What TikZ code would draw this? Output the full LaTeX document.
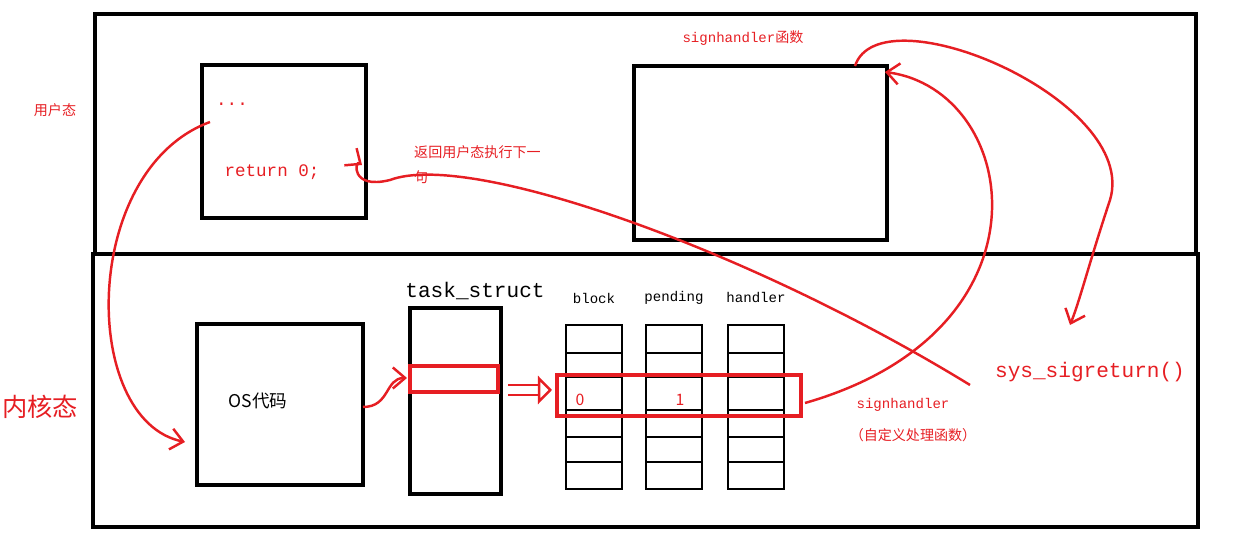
\documentclass[tikz,border=0pt]{standalone}
\usepackage{fontspec}
\setmonofont{Liberation Mono}
\newfontfamily\cjk{Noto Sans CJK SC}
\usetikzlibrary{arrows.meta}
\definecolor{pen}{RGB}{230,30,35}
\tikzset{
  frame/.style={draw, line width=2.2pt},
  cell/.style={draw, line width=1.6pt},
  hand/.style={pen, line width=1.4pt},
  handarrow/.style={hand, -{Straight Barb[length=7pt,width=12pt]}},
  redtext/.style={pen, font=\cjk\footnotesize},
  mono/.style={font=\ttfamily\small}
}
\begin{document}
\begin{tikzpicture}[x=0.02cm, y=-0.02cm]
    \useasboundingbox (0,0) rectangle (1238,546);

    % User space
    \draw[frame] (95,14) rectangle (1196,254);
    \node[redtext] (user) at (55,110) {用户态};
    \draw[frame] (202,65) rectangle (366,218);
    \node[pen, font=\ttfamily] (dots) at (232,104) {...};
    \node[pen, font=\ttfamily] (ret) at (272,172) {return 0;};
    \draw[frame] (634,66) rectangle (887,240);
    \node[redtext, font=\ttfamily\footnotesize] (shfun) at (743,38) {signhandler\cjk 函数};
    \node[redtext, anchor=west] (back1) at (408,152) {返回用户态执行下一};
    \node[redtext, anchor=west] (back2) at (408,177) {句};

    % Kernel space
    \draw[frame] (93,254) rectangle (1198,527);
    \node[pen, font=\cjk\Large] (kernel) at (40,407) {内核态};
    \draw[frame] (197,324) rectangle (363,485);
    \node[font=\cjk\normalsize] (os) at (258,401) {OS代码};
    \draw[frame] (410,308) rectangle (501,494);
    \node[font=\ttfamily\large] (ts) at (475,291) {task\_struct};
    \draw[pen, line width=1.8pt] (410,366) rectangle (498,392);

    % Signal tables
    \foreach \x/\name in {566/block, 646/pending, 728/handler}
    {
      \node[font=\ttfamily\footnotesize] at (\x+28,298) {\name};
      \foreach \ya/\yb in {325/353, 353/377, 377/410, 410/437, 437/462, 462/489}
        \draw[cell] (\x,\ya) rectangle (\x+56,\yb);
    }
    \draw[pen, line width=2pt] (557,375) rectangle (801,416);
    \node[pen, font=\cjk\small] (zero) at (580,400) {0};
    \node[pen, font=\cjk\small] (one) at (680,400) {1};
    \node[redtext, font=\ttfamily\footnotesize] (sh) at (903,405) {signhandler};
    \node[redtext] (custom) at (913,435) {（自定义处理函数）};
    \node[pen, font=\ttfamily\large] (sysret) at (1090,372) {sys\_sigreturn()};

    % Flow arrows
    \coordinate (a0) at (210,122);
    \coordinate (a1) at (185,442);
    \draw[handarrow] (a0) .. controls (80,170) and (80,420) .. (a1);
    \coordinate (b0) at (363,407);
    \coordinate (b1) at (407,378);
    \draw[handarrow] (b0) .. controls (390,407) and (385,378) .. (b1);
    \draw[pen, line width=1.4pt, double=white, double distance=4pt, -{Triangle[open,length=8pt,width=16pt]}] (508,390) -- (552,390);
    \coordinate (c0) at (805,403);
    \coordinate (c1) at (885,72);
    \draw[handarrow] (c0) .. controls (1060,330) and (1020,90) .. (c1);
    \coordinate (d0) at (855,66);
    \coordinate (d1) at (1070,325);
    \draw[handarrow] (d0) .. controls (880,-10) and (1140,100) .. (1110,200) .. controls (1090,260) and (1080,300) .. (d1);
    \coordinate (e0) at (970,385);
    \coordinate (e1) at (362,165);
    \draw[handarrow] (e0) .. controls (750,250) and (470,150) .. (390,180) .. controls (350,190) and (355,160) .. (e1);
  \end{tikzpicture}
\end{document}
